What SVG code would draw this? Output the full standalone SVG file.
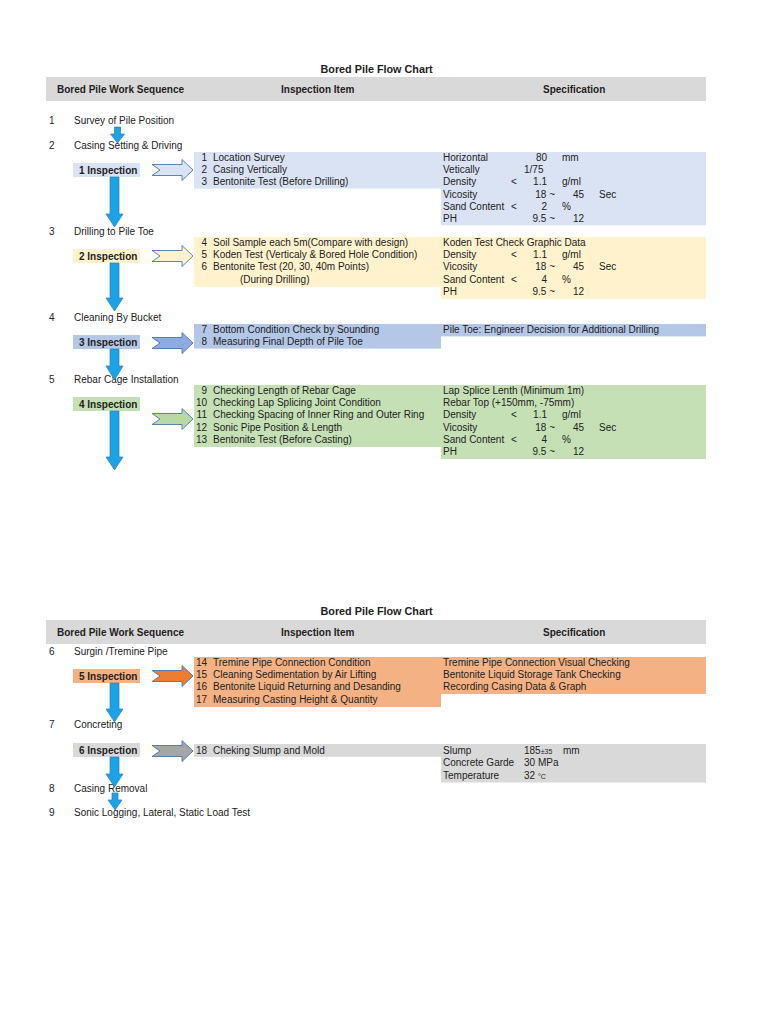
<svg xmlns="http://www.w3.org/2000/svg" xmlns:xlink="http://www.w3.org/1999/xlink" width="768" height="1024" viewBox="0 0 768 1024">
<style>
text{font-family:"Liberation Sans",Arial,sans-serif;font-size:10px;fill:#222222}
.b{font-weight:bold}
.ttl{font-weight:bold;font-size:10.8px}
.e{text-anchor:end}
.s{font-size:7px}
.big{fill:#1ba3e6;stroke:#2b7cc0;stroke-width:0.7}
.chev{stroke:#4a76b8;stroke-width:0.9}
.hdr{fill:#d9d9d9}
</style>
<defs>
<path id="chev" d="M152,-5.5 L182,-5.5 L182,-10.5 L193,0 L182,10.5 L182,5.5 L152,5.5 L160,0 Z"/>
</defs>
<rect width="768" height="1024" fill="#ffffff"/>

<g id="header1">
<text class="ttl" x="320.5" y="72.8">Bored Pile Flow Chart</text>
<rect class="hdr" x="46" y="77" width="660" height="24"/>
<text class="b" x="57" y="92.5">Bored Pile Work Sequence</text>
<text class="b" x="281" y="92.5">Inspection Item</text>
<text class="b" x="543" y="92.5">Specification</text>
</g>

<g id="step1"><text x="49" y="123.5">1</text><text x="74" y="123.5">Survey of Pile Position</text></g>
<g id="step2"><text x="49" y="148.5">2</text><text x="74" y="148.5">Casing Setting &amp; Driving</text></g>
<g id="step3"><text x="49" y="234.5">3</text><text x="74" y="234.5">Drilling to Pile Toe</text></g>
<g id="step4"><text x="49" y="320.5">4</text><text x="74" y="320.5">Cleaning By Bucket</text></g>
<g id="step5"><text x="49" y="382.5">5</text><text x="74" y="382.5">Rebar Cage Installation</text></g>

<g id="insp1"><rect x="73" y="163" width="67" height="14" fill="#dae3f3"/><text class="b" x="79" y="173.5">1 Inspection</text></g>
<g id="insp2"><rect x="73" y="249" width="67" height="14" fill="#fff2cc"/><text class="b" x="79" y="259.5">2 Inspection</text></g>
<g id="insp3"><rect x="73" y="335" width="67" height="14" fill="#b4c7e7"/><text class="b" x="79" y="345.5">3 Inspection</text></g>
<g id="insp4"><rect x="73" y="397" width="67" height="14" fill="#c5e0b4"/><text class="b" x="79" y="407.5">4 Inspection</text></g>

<g id="items1">
<rect x="194" y="152" width="247" height="36.6" fill="#dae3f3"/>
<text class="e" x="207" y="161">1</text><text x="213" y="161">Location Survey</text>
<text class="e" x="207" y="173.2">2</text><text x="213" y="173.2">Casing Vertically</text>
<text class="e" x="207" y="185.4">3</text><text x="213" y="185.4">Bentonite Test (Before Drilling)</text>
</g>
<g id="spec1">
<rect x="441" y="152" width="265" height="73.2" fill="#dae3f3"/>
<text x="443" y="161">Horizontal</text><text class="e" x="547" y="161">80</text><text x="562" y="161">mm</text>
<text x="443" y="173.2">Vetically</text><text x="524" y="173.2">1/75</text>
<text x="443" y="185.4">Density</text><text x="511" y="185.4">&lt;</text><text class="e" x="547" y="185.4">1.1</text><text x="562" y="185.4">g/ml</text>
<text x="443" y="197.6">Vicosity</text><text class="e" x="555" y="197.6">18 ~</text><text class="e" x="584" y="197.6">45</text><text x="599" y="197.6">Sec</text>
<text x="443" y="209.8">Sand Content</text><text x="511" y="209.8">&lt;</text><text class="e" x="547" y="209.8">2</text><text x="562" y="209.8">%</text>
<text x="443" y="222">PH</text><text class="e" x="555" y="222">9.5 ~</text><text class="e" x="584" y="222">12</text>
</g>

<g id="items2">
<rect x="194" y="237" width="247" height="49.8" fill="#fff2cc"/>
<text class="e" x="207" y="246">4</text><text x="213" y="246">Soil Sample each 5m(Compare with design)</text>
<text class="e" x="207" y="258.2">5</text><text x="213" y="258.2">Koden Test (Verticaly &amp; Bored Hole Condition)</text>
<text class="e" x="207" y="270.4">6</text><text x="213" y="270.4">Bentonite Test (20, 30, 40m Points)</text>
<text x="240" y="282.6">(During Drilling)</text>
</g>
<g id="spec2">
<rect x="441" y="237" width="265" height="62" fill="#fff2cc"/>
<text x="443" y="246">Koden Test Check Graphic Data</text>
<text x="443" y="258.2">Density</text><text x="511" y="258.2">&lt;</text><text class="e" x="547" y="258.2">1.1</text><text x="562" y="258.2">g/ml</text>
<text x="443" y="270.4">Vicosity</text><text class="e" x="555" y="270.4">18 ~</text><text class="e" x="584" y="270.4">45</text><text x="599" y="270.4">Sec</text>
<text x="443" y="282.6">Sand Content</text><text x="511" y="282.6">&lt;</text><text class="e" x="547" y="282.6">4</text><text x="562" y="282.6">%</text>
<text x="443" y="294.8">PH</text><text class="e" x="555" y="294.8">9.5 ~</text><text class="e" x="584" y="294.8">12</text>
</g>

<g id="items3">
<rect x="194" y="324" width="247" height="24.6" fill="#b4c7e7"/>
<text class="e" x="207" y="333">7</text><text x="213" y="333">Bottom Condition Check by Sounding</text>
<text class="e" x="207" y="345.2">8</text><text x="213" y="345.2">Measuring Final Depth of Pile Toe</text>
</g>
<g id="spec3">
<rect x="441" y="324" width="265" height="12.4" fill="#b4c7e7"/>
<text x="443" y="333">Pile Toe: Engineer Decision for Additional Drilling</text>
</g>

<g id="items4">
<rect x="194" y="385" width="247" height="62" fill="#c5e0b4"/>
<text class="e" x="207" y="394">9</text><text x="213" y="394">Checking Length of Rebar Cage</text>
<text class="e" x="207" y="406.2">10</text><text x="213" y="406.2">Checking Lap Splicing Joint Condition</text>
<text class="e" x="207" y="418.4">11</text><text x="213" y="418.4">Checking Spacing of Inner Ring and Outer Ring</text>
<text class="e" x="207" y="430.6">12</text><text x="213" y="430.6">Sonic Pipe Position &amp; Length</text>
<text class="e" x="207" y="442.8">13</text><text x="213" y="442.8">Bentonite Test (Before Casting)</text>
</g>
<g id="spec4">
<rect x="441" y="385" width="265" height="74" fill="#c5e0b4"/>
<text x="443" y="394">Lap Splice Lenth (Minimum 1m)</text>
<text x="443" y="406.2">Rebar Top (+150mm, -75mm)</text>
<text x="443" y="418.4">Density</text><text x="511" y="418.4">&lt;</text><text class="e" x="547" y="418.4">1.1</text><text x="562" y="418.4">g/ml</text>
<text x="443" y="430.6">Vicosity</text><text class="e" x="555" y="430.6">18 ~</text><text class="e" x="584" y="430.6">45</text><text x="599" y="430.6">Sec</text>
<text x="443" y="442.8">Sand Content</text><text x="511" y="442.8">&lt;</text><text class="e" x="547" y="442.8">4</text><text x="562" y="442.8">%</text>
<text x="443" y="455">PH</text><text class="e" x="555" y="455">9.5 ~</text><text class="e" x="584" y="455">12</text>
</g>

<g id="header2">
<text class="ttl" x="320.5" y="614.8">Bored Pile Flow Chart</text>
<rect class="hdr" x="46" y="620" width="660" height="24"/>
<text class="b" x="57" y="635.5">Bored Pile Work Sequence</text>
<text class="b" x="281" y="635.5">Inspection Item</text>
<text class="b" x="543" y="635.5">Specification</text>
</g>

<g id="step6"><text x="49" y="654.5">6</text><text x="74" y="654.5">Surgin /Tremine Pipe</text></g>
<g id="step7"><text x="49" y="727.5">7</text><text x="74" y="727.5">Concreting</text></g>
<g id="step8"><text x="49" y="791.5">8</text><text x="74" y="791.5">Casing Removal</text></g>
<g id="step9"><text x="49" y="815.5">9</text><text x="74" y="815.5">Sonic Logging, Lateral, Static Load Test</text></g>

<g id="insp5"><rect x="73" y="669" width="67" height="14" fill="#f4b183"/><text class="b" x="79" y="679.5">5 Inspection</text></g>
<g id="insp6"><rect x="73" y="743" width="67" height="14" fill="#d9d9d9"/><text class="b" x="79" y="753.5">6 Inspection</text></g>

<g id="items5">
<rect x="194" y="657" width="247" height="50" fill="#f4b183"/>
<text class="e" x="207" y="666">14</text><text x="213" y="666">Tremine Pipe Connection Condition</text>
<text class="e" x="207" y="678.2">15</text><text x="213" y="678.2">Cleaning Sedimentation by Air Lifting</text>
<text class="e" x="207" y="690.4">16</text><text x="213" y="690.4">Bentonite Liquid Returning and Desanding</text>
<text class="e" x="207" y="702.6">17</text><text x="213" y="702.6">Measuring Casting Height &amp; Quantity</text>
</g>
<g id="spec5">
<rect x="441" y="657" width="265" height="37" fill="#f4b183"/>
<text x="443" y="666">Tremine Pipe Connection Visual Checking</text>
<text x="443" y="678.2">Bentonite Liquid Storage Tank Checking</text>
<text x="443" y="690.4">Recording Casing Data &amp; Graph</text>
</g>

<g id="items6">
<rect x="194" y="744" width="247" height="12.8" fill="#d9d9d9"/>
<text class="e" x="207" y="753.5">18</text><text x="213" y="753.5">Cheking Slump and Mold</text>
</g>
<g id="spec6">
<rect x="441" y="744" width="265" height="38.5" fill="#d9d9d9"/>
<text x="443" y="753.5">Slump</text><text x="524" y="753.5">185<tspan class="s">±35</tspan></text><text x="563" y="753.5">mm</text>
<text x="443" y="766.3">Concrete Garde</text><text x="524" y="766.3">30 MPa</text>
<text x="443" y="779.1">Temperature</text><text x="524" y="779.1">32 <tspan class="s">°C</tspan></text>
</g>

<g id="connectors">
<path class="big" d="M114.5,127 L120.5,127 L120.5,134 L124.5,134 L117.5,143 L110.5,134 L114.5,134 Z"/>
<path class="big" d="M110,177 L119,177 L119,214 L123,214 L114.5,227 L106,214 L110,214 Z"/>
<path class="big" d="M110,263 L119,263 L119,298 L123,298 L114.5,311 L106,298 L110,298 Z"/>
<path class="big" d="M110,349 L119,349 L119,366 L123,366 L114.5,380 L106,366 L110,366 Z"/>
<path class="big" d="M110,411 L119,411 L119,457 L123,457 L114.5,470 L106,457 L110,457 Z"/>
<path class="big" d="M110,683 L119,683 L119,709 L123,709 L114.5,722 L106,709 L110,709 Z"/>
<path class="big" d="M110,757 L119,757 L119,774 L123,774 L114.5,787 L106,774 L110,774 Z"/>
<path class="big" d="M112,793 L118,793 L118,800 L122,800 L115,810 L108,800 L112,800 Z"/>
<use xlink:href="#chev" class="chev" y="170" fill="#dae3f3"/>
<use xlink:href="#chev" class="chev" y="256" fill="#fff2cc"/>
<use xlink:href="#chev" class="chev" y="343" fill="#8faadc"/>
<use xlink:href="#chev" class="chev" y="419" fill="#b9d9a3"/>
<use xlink:href="#chev" class="chev" y="676" fill="#ed7d31"/>
<use xlink:href="#chev" class="chev" y="751" fill="#a5a5a5"/>
</g>
</svg>
